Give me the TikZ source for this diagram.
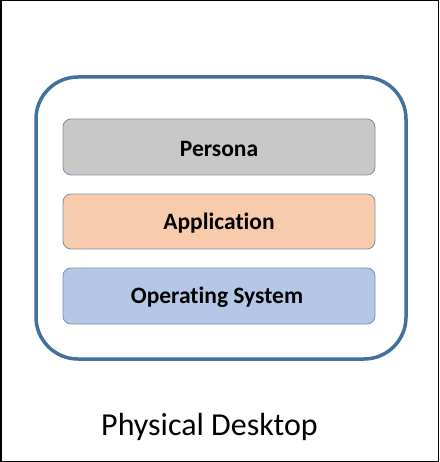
\documentclass[tikz,border=0pt]{standalone}
\usepackage{fontspec}
\setmainfont[Ligatures={NoCommon,NoRare,NoContextual}]{Carlito}
\begin{document}
\begin{tikzpicture}[x=1pt,y=-1pt,
  layer/.style={draw=layerborder, line width=0.8pt, rounded corners=8pt},
  layertext/.style={font=\fontsize{23.5}{26}\selectfont\bfseries}]
\definecolor{outerblue}{HTML}{41719C}
\definecolor{layerborder}{HTML}{7F8FA6}
\definecolor{personafill}{HTML}{C8C8C8}
\definecolor{appfill}{HTML}{F8CBAD}
\definecolor{osfill}{HTML}{B4C7E7}
\useasboundingbox (0,0) rectangle (439,462);
\draw[black, line width=1.5pt] (0.75,0.75) rectangle (438.25,461.25);
\draw[outerblue, line width=3.5pt, rounded corners=42pt] (36,77) rectangle (406,359);
\filldraw[layer, fill=personafill] (63,119) rectangle (375,175);
\node[layertext] (persona) at (219,148.5) {Persona};
\filldraw[layer, fill=appfill] (63,194) rectangle (375,249);
\node[layertext] (app) at (219,223) {Application};
\filldraw[layer, fill=osfill] (63,268) rectangle (375,324);
\node[layertext] (os) at (217,297.5) {Operating System};
\node[font=\fontsize{32}{36}\selectfont] (pd) at (209.5,426.5) {Physical Desktop};
\end{tikzpicture}
\end{document}
